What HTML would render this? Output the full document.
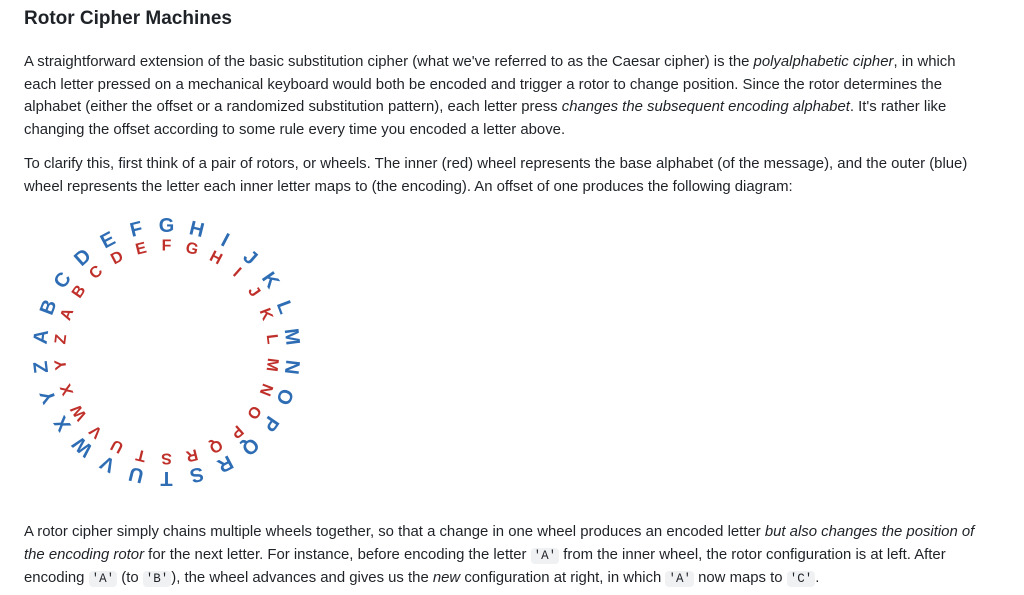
<!DOCTYPE html>
<html><head><meta charset="utf-8"><style>
body{margin:0;background:#fff;font-family:"Liberation Sans",sans-serif;color:#1f2328;width:1024px;height:595px;overflow:hidden;position:relative}
h2{position:absolute;left:24px;top:8px;margin:0;font-size:19px;font-weight:bold;color:#1f2328}
p{position:absolute;left:24px;margin:0;font-size:14.9px;line-height:22.5px;white-space:nowrap}
code{font-family:"Liberation Mono",monospace;font-size:12.5px;background:#eff1f3;padding:1px 3px;border-radius:4px}
svg{position:absolute;left:0;top:0}
.o{fill:#2e6db4;font:bold 20px "Liberation Sans",sans-serif}
.i{fill:#c0302b;font:bold 16px "Liberation Sans",sans-serif}
</style></head><body>
<h2>Rotor Cipher Machines</h2>
<p style="top:51px">A straightforward extension of the basic substitution cipher (what we've referred to as the Caesar cipher) is the <i>polyalphabetic cipher</i>, in which<br>each letter pressed on a mechanical keyboard would both be encoded and trigger a rotor to change position. Since the rotor determines the<br>alphabet (either the offset or a randomized substitution pattern), each letter press <i>changes the subsequent encoding alphabet</i>. It's rather like<br>changing the offset according to some rule every time you encoded a letter above.</p>
<p style="top:153px">To clarify this, first think of a pair of rotors, or wheels. The inner (red) wheel represents the base alphabet (of the message), and the outer (blue)<br>wheel represents the letter each inner letter maps to (the encoding). An offset of one produces the following diagram:</p>
<svg width="1024" height="595" text-anchor="middle" dominant-baseline="central">
<g transform="translate(166.5,352)">
<text class="o" transform="rotate(-83.08) translate(0,-126)">A</text>
<text class="o" transform="rotate(-69.23) translate(0,-126)">B</text>
<text class="o" transform="rotate(-55.38) translate(0,-126)">C</text>
<text class="o" transform="rotate(-41.54) translate(0,-126)">D</text>
<text class="o" transform="rotate(-27.69) translate(0,-126)">E</text>
<text class="o" transform="rotate(-13.85) translate(0,-126)">F</text>
<text class="o" transform="rotate(0) translate(0,-126)">G</text>
<text class="o" transform="rotate(13.85) translate(0,-126)">H</text>
<text class="o" transform="rotate(27.69) translate(0,-126)">I</text>
<text class="o" transform="rotate(41.54) translate(0,-126)">J</text>
<text class="o" transform="rotate(55.38) translate(0,-126)">K</text>
<text class="o" transform="rotate(69.23) translate(0,-126)">L</text>
<text class="o" transform="rotate(83.08) translate(0,-126)">M</text>
<text class="o" transform="rotate(96.92) translate(0,-126)">N</text>
<text class="o" transform="rotate(110.77) translate(0,-126)">O</text>
<text class="o" transform="rotate(124.62) translate(0,-126)">P</text>
<text class="o" transform="rotate(138.46) translate(0,-126)">Q</text>
<text class="o" transform="rotate(152.31) translate(0,-126)">R</text>
<text class="o" transform="rotate(166.15) translate(0,-126)">S</text>
<text class="o" transform="rotate(180) translate(0,-126)">T</text>
<text class="o" transform="rotate(193.85) translate(0,-126)">U</text>
<text class="o" transform="rotate(207.69) translate(0,-126)">V</text>
<text class="o" transform="rotate(221.54) translate(0,-126)">W</text>
<text class="o" transform="rotate(235.38) translate(0,-126)">X</text>
<text class="o" transform="rotate(249.23) translate(0,-126)">Y</text>
<text class="o" transform="rotate(263.08) translate(0,-126)">Z</text>
<text class="i" transform="rotate(-69.23) translate(0,-106)">A</text>
<text class="i" transform="rotate(-55.38) translate(0,-106)">B</text>
<text class="i" transform="rotate(-41.54) translate(0,-106)">C</text>
<text class="i" transform="rotate(-27.69) translate(0,-106)">D</text>
<text class="i" transform="rotate(-13.85) translate(0,-106)">E</text>
<text class="i" transform="rotate(0) translate(0,-106)">F</text>
<text class="i" transform="rotate(13.85) translate(0,-106)">G</text>
<text class="i" transform="rotate(27.69) translate(0,-106)">H</text>
<text class="i" transform="rotate(41.54) translate(0,-106)">I</text>
<text class="i" transform="rotate(55.38) translate(0,-106)">J</text>
<text class="i" transform="rotate(69.23) translate(0,-106)">K</text>
<text class="i" transform="rotate(83.08) translate(0,-106)">L</text>
<text class="i" transform="rotate(96.92) translate(0,-106)">M</text>
<text class="i" transform="rotate(110.77) translate(0,-106)">N</text>
<text class="i" transform="rotate(124.62) translate(0,-106)">O</text>
<text class="i" transform="rotate(138.46) translate(0,-106)">P</text>
<text class="i" transform="rotate(152.31) translate(0,-106)">Q</text>
<text class="i" transform="rotate(166.15) translate(0,-106)">R</text>
<text class="i" transform="rotate(180) translate(0,-106)">S</text>
<text class="i" transform="rotate(193.85) translate(0,-106)">T</text>
<text class="i" transform="rotate(207.69) translate(0,-106)">U</text>
<text class="i" transform="rotate(221.54) translate(0,-106)">V</text>
<text class="i" transform="rotate(235.38) translate(0,-106)">W</text>
<text class="i" transform="rotate(249.23) translate(0,-106)">X</text>
<text class="i" transform="rotate(263.08) translate(0,-106)">Y</text>
<text class="i" transform="rotate(276.92) translate(0,-106)">Z</text>
</g></svg>
<p style="top:521px">A rotor cipher simply chains multiple wheels together, so that a change in one wheel produces an encoded letter <i>but also changes the position of</i><br><i>the encoding rotor</i> for the next letter. For instance, before encoding the letter <code>'A'</code> from the inner wheel, the rotor configuration is at left. After<br>encoding <code>'A'</code> (to <code>'B'</code>), the wheel advances and gives us the <i>new</i> configuration at right, in which <code>'A'</code> now maps to <code>'C'</code>.</p>
</body></html>
